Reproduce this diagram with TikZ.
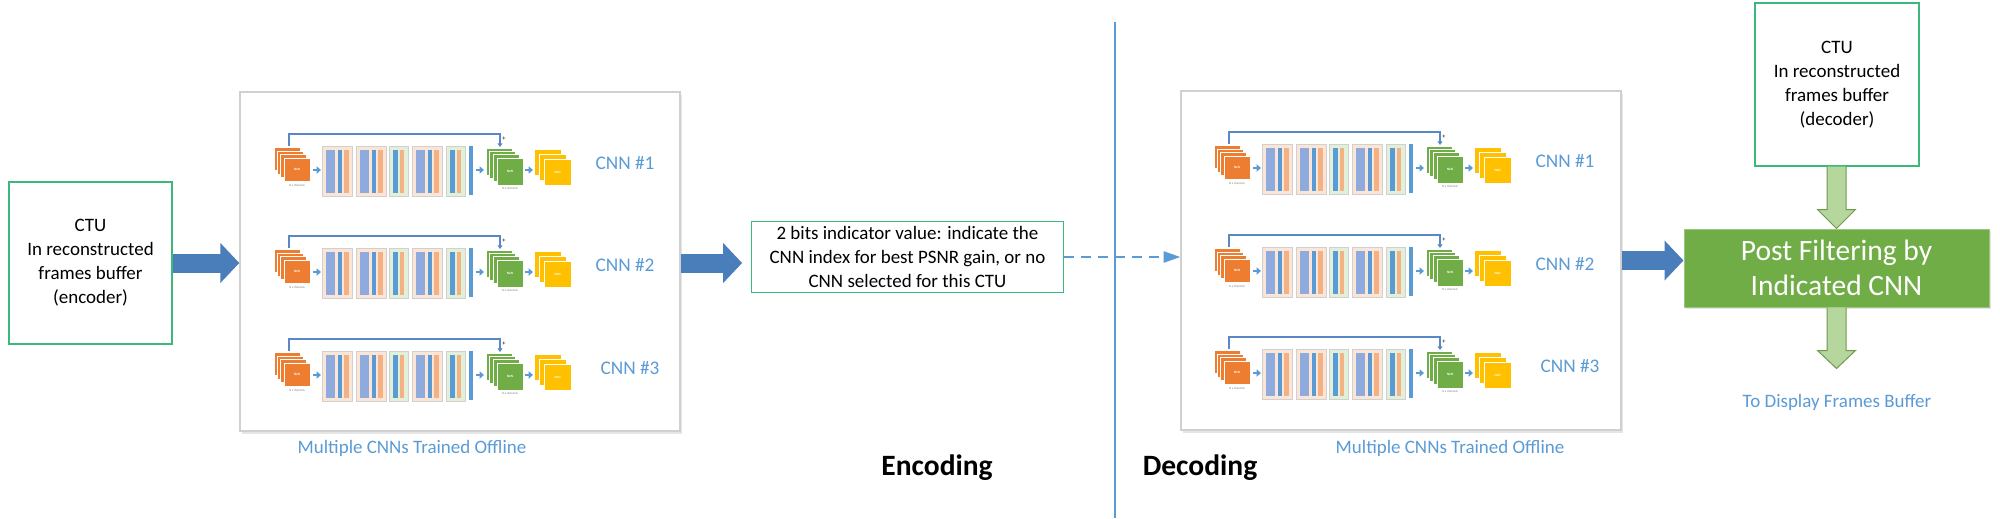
\documentclass[tikz,border=0pt]{standalone}
\usepackage{fontspec}
\setmainfont{Carlito}
\usetikzlibrary{arrows.meta,calc,shadows}

\definecolor{cnnorange}{HTML}{ED7D31}
\definecolor{cnnpeach}{HTML}{F4B183}
\definecolor{cnnpale}{HTML}{FBE5D6}
\definecolor{cnnlblue}{HTML}{8FAADC}
\definecolor{cnnblue}{HTML}{5B9BD5}
\definecolor{cnnmint}{HTML}{E2F0D9}
\definecolor{cnngreen}{HTML}{70AD47}
\definecolor{cnnyellow}{HTML}{FFC000}
\definecolor{arrowblue}{HTML}{4A7EBB}
\definecolor{capblue}{HTML}{5B9BD5}
\definecolor{skipblue}{HTML}{5A87C6}
\definecolor{boxgreen}{HTML}{3DB87A}
\definecolor{panelgray}{HTML}{D0D0D0}
\definecolor{palegreen}{HTML}{B5D69C}
\definecolor{darkedge}{HTML}{6F9A4E}

\tikzset{
  ctubox/.style={draw=boxgreen, line width=0.3mm, fill=white, align=center,
    font={\fontsize{13.5pt}{17pt}\selectfont}},
  panel/.style={draw=panelgray, line width=0.35mm, fill=white,
    drop shadow={shadow xshift=0.6mm, shadow yshift=-0.7mm, opacity=0.2, fill=black!50}},
  postbox/.style={fill=cnngreen, draw=cnngreen!70, line width=0.25mm, text=white, align=center,
    font={\fontsize{21pt}{24.8pt}\selectfont},
    drop shadow={shadow xshift=0.5mm, shadow yshift=-0.5mm, opacity=0.2, fill=black!50}},
  caption/.style={text=capblue, font={\fontsize{13.5pt}{16pt}\selectfont}},
  cnnlabel/.style={text=capblue, font={\fontsize{13.7pt}{16pt}\selectfont}},
  phase/.style={font={\fontsize{21pt}{24pt}\selectfont\bfseries}},
  barrow/.style={draw=arrowblue, line width=4.75mm, -{Triangle[length=4.75mm, width=9.75mm]}},
  dasharrow/.style={draw=capblue, line width=0.5mm, dash pattern=on 2.5mm off 1.75mm,
    -{Triangle[length=4.2mm, width=2.8mm]}},
  fatgreen/.style={fill=palegreen, draw=darkedge, line width=0.25mm, line join=miter},
  divider/.style={draw=capblue, line width=0.5mm},
  mapedge/.style={draw=white, line width=0.2mm},
  grpedge/.style={draw=panelgray, line width=0.2mm},
  smallarrow/.style={draw=cnnblue, line width=0.6mm, -{Triangle[length=1.1mm, width=1.8mm]}},
  skipline/.style={draw=skipblue, line width=0.35mm, -{Triangle[length=0.9mm, width=1.2mm]}},
  mapnum/.style={text=white, inner sep=0pt, font={\fontsize{2.4pt}{2.6pt}\selectfont\bfseries}},
  mapcap/.style={text=black!50, inner sep=0pt, font={\fontsize{2.2pt}{2.4pt}\selectfont}},
  pics/cnnnet/.style={code={
    % input feature maps
    \foreach \k in {3,2,1,0}
      \draw[mapedge, fill=cnnorange] ({11-3.3*\k},{-12-3.5*\k}) rectangle ++(26,23);
    \node[mapnum] (-in) at (24,-0.5) {NxN};
    \node[mapcap] (-incap) at (24,15) {N x channels};
    \draw[smallarrow] (40,0) -- (48,0);
    % conv layer groups
    \foreach \gx in {49,83,139} {
      \draw[grpedge, fill=cnnpale] (\gx,-24) rectangle ++(30.5,50);
      \fill[cnnlblue] (\gx+4,-20) rectangle ++(9,43);
      \fill[cnnblue] (\gx+16,-20) rectangle ++(4,43);
      \fill[cnnpeach] (\gx+22,-20) rectangle ++(4.5,43);
    }
    \foreach \gx in {116,173} {
      \draw[grpedge, fill=cnnmint] (\gx,-24) rectangle ++(19,50);
      \fill[cnnblue] (\gx+4,-20) rectangle ++(4.5,43);
      \fill[cnnpeach] (\gx+10.5,-20) rectangle ++(4.5,43);
    }
    \fill[cnnblue] (196,-24) rectangle ++(4,49);
    \draw[smallarrow] (203,0) -- (211,0);
    % residual output maps
    \foreach \k in {3,2,1,0}
      \draw[mapedge, fill=cnngreen] ({224-3.6*\k},{-12-3.3*\k}) rectangle ++(26,27);
    \node[mapnum] (-out) at (237,1.5) {NxN};
    \node[mapcap] (-outcap) at (237,18) {N x channels};
    \draw[smallarrow] (252,0) -- (260,0);
    \foreach \k in {2,1,0}
      \draw[mapedge, fill=cnnyellow] ({271-5*\k},{-11-5*\k}) rectangle ++(27,26);
    \node[mapnum] (-res) at (284.5,2) {NxN};
    % skip connection
    \draw[skipline] (16,-24) -- (16,-36) -- (227,-36) -- (227,-23);
    \node[inner sep=0pt, font={\fontsize{4.5pt}{5pt}\selectfont}] (-plus) at (231,-31) {+};
  }}
}

\begin{document}
\begin{tikzpicture}[x=0.25mm, y=-0.25mm]
\fill[white] (0,0) rectangle (2000,518);
\useasboundingbox (0,0) rectangle (2000,518);

% encoder side
\node[ctubox, minimum width=40.75mm, minimum height=40.5mm] (ctuenc) at (90.5,263)
  {CTU\\In reconstructed\\frames buffer\\(encoder)};
\node[panel, minimum width=110mm, minimum height=84.75mm] (encnets) at (460,261.5) {};
\foreach \cy/\lab/\dx in {170/1/0, 272/2/0, 375/3/5} {
  \pic (enc\lab) at (273,\cy) {cnnnet};
  \node[cnnlabel] (enclab\lab) at (625+\dx,\cy-7) {CNN \#\lab};
}
\node[caption] (enccap) at (412,448) {Multiple CNNs Trained Offline};

\node[ctubox, minimum width=78mm, minimum height=17.5mm] (ind) at (907.5,257)
  {2 bits indicator value: indicate the\\CNN index for best PSNR gain, or no\\CNN selected for this CTU};

\draw[barrow] (ctuenc.east) -- (ctuenc.east -| encnets.west);
\draw[barrow, shorten >=2.2mm] (encnets.east |- ctuenc.east) -- (ind.west |- ctuenc.east);

\node[phase] (encoding) at (937,468) {Encoding};
\draw[divider] (1115,22) -- (1115,518);
\node[phase] (decoding) at (1200,468) {Decoding};

% decoder side
\node[panel, minimum width=110mm, minimum height=84.75mm] (decnets) at (1401,260.5) {};
\foreach \cy/\lab/\dx in {168/1/0, 271/2/0, 373/3/5} {
  \pic (dec\lab) at (1213,\cy) {cnnnet};
  \node[cnnlabel] (declab\lab) at (1565+\dx,\cy-7) {CNN \#\lab};
}
\node[caption] (deccap) at (1450,448) {Multiple CNNs Trained Offline};

\draw[dasharrow] (ind.east) -- (ind.east -| decnets.west);

\node[ctubox, minimum width=41mm, minimum height=40.75mm] (ctudec) at (1837,84.5)
  {CTU\\In reconstructed\\frames buffer\\(decoder)};
\node[postbox, minimum width=76.25mm, minimum height=19.5mm] (post) at (1836.5,268)
  {Post Filtering by\\Indicated CNN};
\coordinate (dispout) at ($(post.south)+(0,61)$);
\node[caption] (display) at (1837,402) {To Display Frames Buffer};

\draw[barrow] (decnets.east) -- (decnets.east -| post.west);
\draw[fatgreen] ($(post.north |- ctudec.south)+(-9.5,0)$) -- ($(post.north)+(-9.5,-19)$) -- ++(-9.5,0)
  -- (post.north) -- ($(post.north)+(19,-19)$) -- ++(-9.5,0) -- ($(post.north |- ctudec.south)+(9.5,0)$);
\draw[fatgreen] ($(post.south)+(-9.5,0)$) -- ($(dispout)+(-9.5,-18)$) -- ++(-9.5,0)
  -- (dispout) -- ($(dispout)+(19,-18)$) -- ++(-9.5,0) -- ($(post.south)+(9.5,0)$);
\end{tikzpicture}
\end{document}
